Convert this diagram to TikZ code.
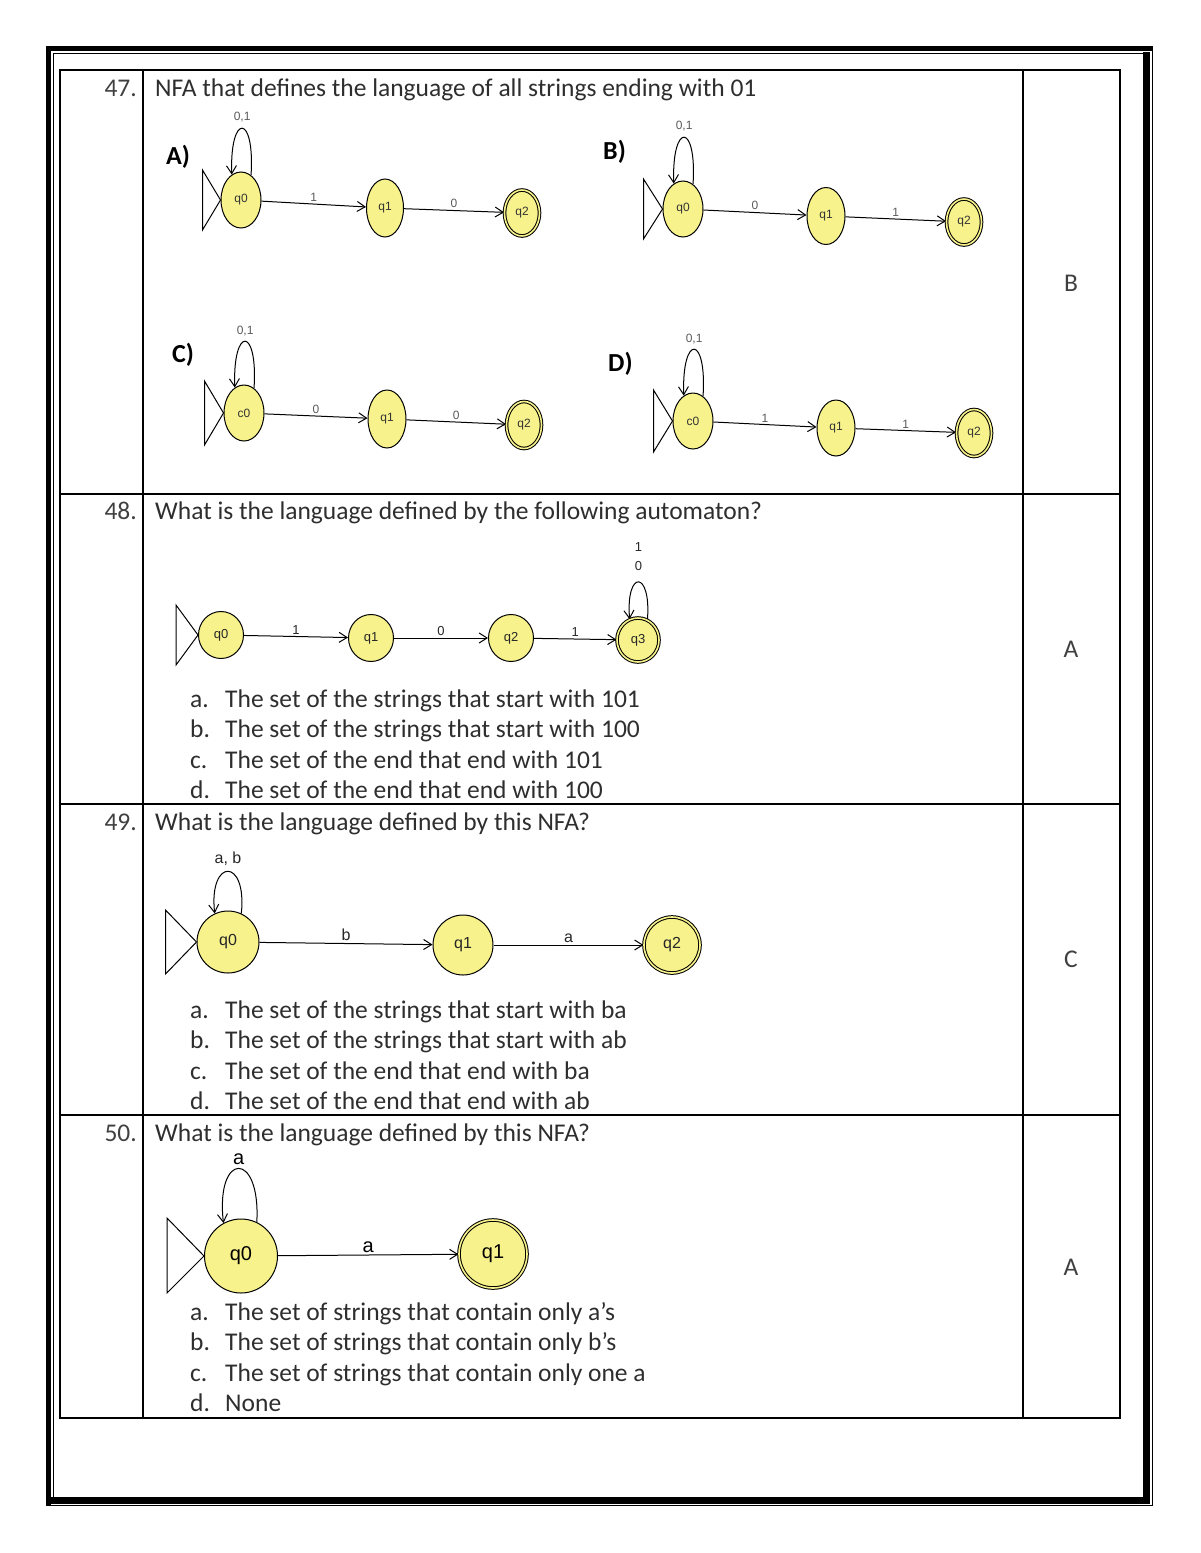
\documentclass[tikz,border=0pt]{standalone}
\usepackage{fontspec}
\setmainfont{Carlito}
\newfontfamily\statefont{Liberation Sans}
\usetikzlibrary{shapes.geometric,arrows.meta}
\pgfdeclarelayer{edgelayer}
\pgfdeclarelayer{nodelayer}
\pgfsetlayers{edgelayer,nodelayer,main}
\definecolor{statefill}{RGB}{247,242,140}
\definecolor{labelgray}{RGB}{90,90,90}
\tikzstyle{state}=[ellipse, fill=statefill, draw=black, line width=1pt, inner sep=0pt]
\tikzstyle{accept}=[state, double=statefill, double distance=1.6pt]
\tikzstyle{trans}=[draw=black, line width=1pt, -{Straight Barb[length=8pt,width=10pt]}]
\tikzstyle{start}=[draw=black, line width=1pt]
\tikzstyle{lbl}=[above, inner sep=2pt]
\tikzstyle{txt}=[anchor=base west, inner sep=0pt, text=black!82, font=\fontsize{25.5}{30}\selectfont]
\tikzstyle{num}=[anchor=base east, inner sep=0pt, text=black!75, font=\fontsize{25.5}{30}\selectfont]
\tikzstyle{ans}=[anchor=base, inner sep=0pt, text=black!75, font=\fontsize{25.5}{30}\selectfont]
\tikzstyle{choice}=[anchor=base west, inner sep=0pt, text=black, font=\bfseries\fontsize{26}{30}\selectfont]
\tikzstyle{tiny}=[font=\statefont\fontsize{12}{12}\selectfont, text=labelgray]
\tikzstyle{mini}=[font=\statefont\fontsize{13}{13}\selectfont, text=black!85]
\tikzstyle{mid}=[font=\statefont\fontsize{16}{16}\selectfont, text=black!85]
\tikzstyle{big}=[font=\statefont\fontsize{20}{20}\selectfont, text=black]

\begin{document}
\begin{tikzpicture}[x=1pt, y=1pt]
\useasboundingbox (0,0) rectangle (1200,-1553);
% page border
\draw[line width=1pt] (46,-46) rectangle (1152.5,-1505.5);
\draw[line width=5pt] (48.5,-1505) -- (48.5,-48.5) -- (1152,-48.5);
\draw[line width=1pt] (53.5,-1497) -- (53.5,-53.5) -- (1143,-53.5);
\draw[line width=6.5pt] (1146.5,-52) -- (1146.5,-1500.5) -- (51,-1500.5);
% table
\draw[line width=2pt] (60,-70) rectangle (1120,-1418);
\draw[line width=2pt] (143,-70) -- (143,-1418);
\draw[line width=2pt] (1023,-70) -- (1023,-1418);
\foreach \y in {494,804,1115}
  \draw[line width=2pt] (60,-\y) -- (1120,-\y);

% question texts
\node[num] (n47) at (137,-96) {47.};
\node[txt] (t47) at (155,-96) {NFA that defines the language of all strings ending with 01};
\node[num] (n48) at (137,-519) {48.};
\node[txt] (t48) at (155,-519) {What is the language defined by the following automaton?};
\node[num] (n49) at (137,-830) {49.};
\node[txt] (t49) at (155,-830) {What is the language defined by this NFA?};
\node[num] (n50) at (137,-1141) {50.};
\node[txt] (t50) at (155,-1141) {What is the language defined by this NFA?};

% answers
\node[ans] (k47) at (1071,-291) {B};
\node[ans] (k48) at (1071,-657) {A};
\node[ans] (k49) at (1071,-967) {C};
\node[ans] (k50) at (1071,-1275) {A};

% options
\node[txt] (o48a) at (190,-707) {a.};   \node[txt] at (225,-707) {The set of the strings that start with 101};
\node[txt] (o48b) at (190,-737.5) {b.}; \node[txt] at (225,-737.5) {The set of the strings that start with 100};
\node[txt] (o48c) at (190,-768) {c.};   \node[txt] at (225,-768) {The set of the end that end with 101};
\node[txt] (o48d) at (190,-798.5) {d.}; \node[txt] at (225,-798.5) {The set of the end that end with 100};
\node[txt] (o49a) at (190,-1018) {a.};   \node[txt] at (225,-1018) {The set of the strings that start with ba};
\node[txt] (o49b) at (190,-1048.5) {b.}; \node[txt] at (225,-1048.5) {The set of the strings that start with ab};
\node[txt] (o49c) at (190,-1079) {c.};   \node[txt] at (225,-1079) {The set of the end that end with ba};
\node[txt] (o49d) at (190,-1109.5) {d.}; \node[txt] at (225,-1109.5) {The set of the end that end with ab};
\node[txt] (o50a) at (190,-1320) {a.};   \node[txt] at (225,-1320) {The set of strings that contain only a’s};
\node[txt] (o50b) at (190,-1350.5) {b.}; \node[txt] at (225,-1350.5) {The set of strings that contain only b’s};
\node[txt] (o50c) at (190,-1381) {c.};   \node[txt] at (225,-1381) {The set of strings that contain only one a};
\node[txt] (o50d) at (190,-1411.5) {d.}; \node[txt] at (225,-1411.5) {None};

% choice letters
\node[choice] (chA) at (166,-164) {A)};
\node[choice] (chB) at (603,-159) {B)};
\node[choice] (chC) at (172,-362) {C)};
\node[choice] (chD) at (608,-371) {D)};

\begin{pgfonlayer}{nodelayer}
% 47 A
\node [style=state, tiny, text=black!80, minimum width=40pt, minimum height=56pt] (a0) at (241,-200) {q0};
\node [style=state, tiny, text=black!80, minimum width=37pt, minimum height=58pt] (a1) at (385,-208) {q1};
\node [style=accept, tiny, text=black!80, minimum width=35pt, minimum height=46pt] (a2) at (522,-213) {q2};
% 47 B
\node [style=state, tiny, text=black!80, minimum width=40pt, minimum height=56pt] (b0) at (683,-209) {q0};
\node [style=state, tiny, text=black!80, minimum width=38pt, minimum height=57pt] (b1) at (826,-216) {q1};
\node [style=accept, tiny, text=black!80, minimum width=35pt, minimum height=46pt] (b2) at (964,-222) {q2};
% 47 C
\node [style=state, tiny, text=black!80, minimum width=40pt, minimum height=56pt] (c0) at (244,-413) {c0};
\node [style=state, tiny, text=black!80, minimum width=38pt, minimum height=58pt] (c1) at (387,-419) {q1};
\node [style=accept, tiny, text=black!80, minimum width=35pt, minimum height=47pt] (c2) at (524,-425) {q2};
% 47 D
\node [style=state, tiny, text=black!80, minimum width=40pt, minimum height=56pt] (d0) at (693,-421) {c0};
\node [style=state, tiny, text=black!80, minimum width=38pt, minimum height=56pt] (d1) at (836,-428) {q1};
\node [style=accept, tiny, text=black!80, minimum width=35pt, minimum height=47pt] (d2) at (974,-433) {q2};
% 48
\node [style=state, mini, minimum width=45pt, minimum height=47pt] (e0) at (221,-635) {q0};
\node [style=state, mini, minimum width=45pt, minimum height=47pt] (e1) at (371,-638) {q1};
\node [style=state, mini, minimum width=45pt, minimum height=47pt] (e2) at (511,-638) {q2};
\node [style=accept, mini, minimum width=42pt, minimum height=44pt] (e3) at (638,-640) {q3};
% 49
\node [style=state, mid, minimum width=62pt, minimum height=62pt] (f0) at (228,-942) {q0};
\node [style=state, mid, minimum width=60pt, minimum height=60pt] (f1) at (463,-945) {q1};
\node [style=accept, mid, minimum width=56pt, minimum height=56pt] (f2) at (672,-945) {q2};
% 50
\node [style=state, big, minimum width=73pt, minimum height=74pt] (g0) at (241,-1256) {q0};
\node [style=accept, big, minimum width=68pt, minimum height=68pt] (g1) at (493,-1254) {q1};
\end{pgfonlayer}

\begin{pgfonlayer}{edgelayer}
% 47 A
\draw [style=start] (a0.west) -- ++(-18,30) -- ++(0,-60) -- cycle;
\draw [style=trans] (a0.68) .. controls +(4,62) and +(-2,62) .. (a0.110) node[pos=0.5, above=2pt, tiny] {0,1};
\draw [style=trans] (a0) to node[lbl, tiny] {1} (a1);
\draw [style=trans] (a1) to node[lbl, tiny] {0} (a2);
% 47 B
\draw [style=start] (b0.west) -- ++(-19,30) -- ++(0,-60) -- cycle;
\draw [style=trans] (b0.68) .. controls +(4,62) and +(-2,62) .. (b0.110) node[pos=0.5, above=2pt, tiny] {0,1};
\draw [style=trans] (b0) to node[lbl, tiny] {0} (b1);
\draw [style=trans] (b1) to node[lbl, tiny] {1} (b2);
% 47 C
\draw [style=start] (c0.west) -- ++(-19,32) -- ++(0,-64) -- cycle;
\draw [style=trans] (c0.68) .. controls +(4,62) and +(-2,62) .. (c0.110) node[pos=0.5, above=2pt, tiny] {0,1};
\draw [style=trans] (c0) to node[lbl, tiny] {0} (c1);
\draw [style=trans] (c1) to node[lbl, tiny] {0} (c2);
% 47 D
\draw [style=start] (d0.west) -- ++(-19,31) -- ++(0,-62) -- cycle;
\draw [style=trans] (d0.68) .. controls +(4,62) and +(-2,62) .. (d0.110) node[pos=0.5, above=2pt, tiny] {0,1};
\draw [style=trans] (d0) to node[lbl, tiny] {1} (d1);
\draw [style=trans] (d1) to node[lbl, tiny] {1} (d2);
% 48
\draw [style=start] (e0.west) -- ++(-22,30) -- ++(0,-60) -- cycle;
\draw [style=trans] (e0) to node[lbl, mini] {1} (e1);
\draw [style=trans] (e1) to node[lbl, mini] {0} (e2);
\draw [style=trans] (e2) to node[lbl, mini] {1} (e3);
\draw [style=trans] (e3.65) .. controls +(4,50) and +(-4,50) .. (e3.112) node[pos=0.5, above=8pt, mini, align=center] {1\\[6pt]0};
% 49
\draw [style=start] (f0.west) -- ++(-31,32) -- ++(0,-64) -- cycle;
\draw [style=trans] (f0.65) .. controls +(6,56) and +(-6,56) .. (f0.115) node[pos=0.5, above=2pt, mid] {a, b};
\draw [style=trans] (f0) to node[lbl, mid] {b} (f1);
\draw [style=trans] (f1) to node[lbl, mid] {a} (f2);
% 50
\draw [style=start] (g0.west) -- ++(-37,38) -- ++(0,-75) -- cycle;
\draw [style=trans] (g0.65) .. controls +(4,72) and +(-8,72) .. (g0.118) node[pos=0.5, above=0pt, big] {a};
\draw [style=trans] (g0) to node[lbl, big] {a} (g1);
\end{pgfonlayer}
\end{tikzpicture}
\end{document}
